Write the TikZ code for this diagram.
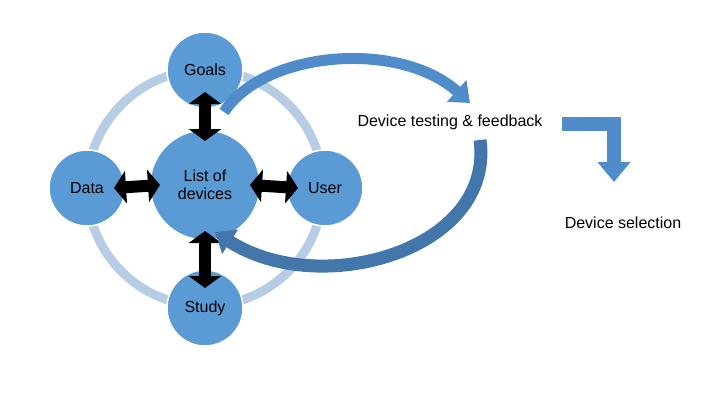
\documentclass[tikz,border=0pt]{standalone}
\usepackage{fontspec}
\setmainfont{Liberation Sans}
\usetikzlibrary{arrows.meta}
\definecolor{cb}{HTML}{5B9BD5}
\definecolor{ring}{HTML}{B7CDE6}
\definecolor{arr}{HTML}{4F8CC9}
\begin{document}
\begin{tikzpicture}[x=1pt,y=-1pt,
  circ/.style={circle,fill=cb,draw=white,line width=1.5pt,inner sep=0pt,font=\fontsize{16}{18}\selectfont,align=center},
  dbl/.style={line width=12pt,{Triangle[width=32pt,length=12pt]}-{Triangle[width=32pt,length=12pt]},black},
  band/.style={arr,line width=11pt,-{Triangle[width=28pt,length=18pt]}},
  lab/.style={font=\fontsize{16}{18}\selectfont}]
\useasboundingbox (0,0) rectangle (720,405);
\fill[white] (0,0) rectangle (720,405);
\draw[ring,line width=9pt] (205,188) circle (118);
\node[circ,minimum size=110pt] (c) at (205,185) {List of\\devices};
\node[circ,minimum size=76pt] (g) at (205,70) {Goals};
\node[circ,minimum size=76pt] (d) at (87,188) {Data};
\node[circ,minimum size=76pt] (u) at (325,188) {User};
\node[circ,minimum size=76pt] (s) at (205,308) {Study};
\draw[dbl] ([yshift=-22pt]g.center) -- ([yshift=44pt]c.center);
\draw[dbl] ([xshift=27pt]d.center) -- ([xshift=-45pt]c.center);
\draw[dbl] ([xshift=-27pt]u.center) -- ([xshift=45pt]c.center);
\draw[dbl] ([yshift=20pt]s.center) -- ([yshift=-46pt]c.center);
\node[lab] (t) at (450,122) {Device testing \& feedback};
\node[lab] (sel) at (623,223) {Device selection};
\coordinate (a1) at (224,112);
\coordinate (a2) at (470,103);
\draw[band] (a1) .. controls (265,50) and (400,40) .. (a2);
\coordinate (b1) at (480,140);
\coordinate (b2) at (215,232);
\draw[band,line width=13pt,arr!85!black] (b1) .. controls (495,250) and (320,300) .. (b2);
\coordinate (e1) at (562,124);
\coordinate (e2) at (614,182);
\draw[band,line width=14pt,-{Triangle[width=32pt,length=20pt]}] (e1) -- (614,124) -- (e2);
\end{tikzpicture}
\end{document}
